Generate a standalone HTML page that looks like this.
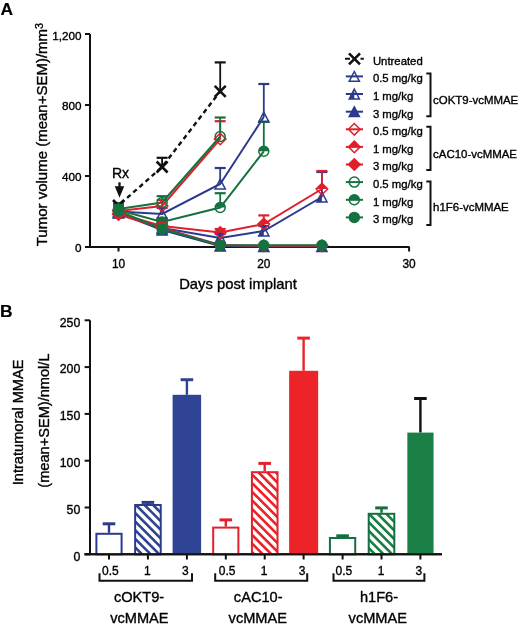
<!DOCTYPE html><html><head><meta charset="utf-8"><title>Figure</title><style>html,body{margin:0;padding:0;background:#fff;width:520px;height:627px;overflow:hidden}svg{display:block}</style></head><body><svg width="520" height="627" viewBox="0 0 520 627" font-family="'Liberation Sans', Arial, Helvetica, sans-serif" fill="#000"><style>text{stroke:#000;stroke-width:0.35px}</style><defs><pattern id="hb" patternUnits="userSpaceOnUse" width="6.1" height="6.1" patternTransform="rotate(-45)"><rect width="6.1" height="6.1" fill="#fff"/><rect x="0" width="2.6" height="6.1" fill="#304496"/></pattern><pattern id="hr" patternUnits="userSpaceOnUse" width="6.1" height="6.1" patternTransform="rotate(-45)"><rect width="6.1" height="6.1" fill="#fff"/><rect x="0" width="2.6" height="6.1" fill="#ec2329"/></pattern><pattern id="hg" patternUnits="userSpaceOnUse" width="6.1" height="6.1" patternTransform="rotate(-45)"><rect width="6.1" height="6.1" fill="#fff"/><rect x="0" width="2.6" height="6.1" fill="#1a7f45"/></pattern></defs><rect width="520" height="627" fill="#fff"/><text x="0.4" y="15.4" font-size="17.4" font-weight="bold" style="stroke-width:0.15px">A</text>
<path d="M90 34 V247 M85 247 H409.5" stroke="#111" stroke-width="2" fill="none"/>
<path d="M85 247.0 H90" stroke="#111" stroke-width="2"/>
<text x="81.6" y="252.0" font-size="11.7" text-anchor="end">0</text>
<path d="M85 176.0 H90" stroke="#111" stroke-width="2"/>
<text x="81.6" y="181.0" font-size="11.7" text-anchor="end">400</text>
<path d="M85 105.0 H90" stroke="#111" stroke-width="2"/>
<text x="81.6" y="110.0" font-size="11.7" text-anchor="end">800</text>
<path d="M85 34.0 H90" stroke="#111" stroke-width="2"/>
<text x="81.6" y="39.8" font-size="11.7" text-anchor="end">1,200</text>
<path d="M118.5 247 V251.5" stroke="#111" stroke-width="2"/>
<text x="118.5" y="268" font-size="11.9" text-anchor="middle">10</text>
<path d="M263.8 247 V251.5" stroke="#111" stroke-width="2"/>
<text x="263.8" y="268" font-size="11.9" text-anchor="middle">20</text>
<path d="M409.1 247 V251.5" stroke="#111" stroke-width="2"/>
<text x="409.1" y="268" font-size="11.9" text-anchor="middle">30</text>
<text x="238" y="288.7" font-size="14.8" text-anchor="middle">Days post implant</text>
<text transform="translate(47 134.6) rotate(-90)" font-size="15" text-anchor="middle">Tumor volume (mean+SEM)/mm<tspan dy="-4.4" font-size="10.8">3</tspan></text>
<text x="111.9" y="177.7" font-size="14.1">Rx</text>
<path d="M119.5 182.3 V188" stroke="#111" stroke-width="2.3"/>
<path d="M114.8 186.2 L124.2 186.2 L119.5 197.8 Z" fill="#111"/>
<path d="M118.5 205.5 L162.1 167.0 L220.2 91.3" stroke="#111" stroke-width="2.4" fill="none" stroke-dasharray="4.6 3.6" stroke-dashoffset="4.9"/>
<path d="M162.1 167.0 V157.8" stroke="#111" stroke-width="1.8"/><path d="M156.6 157.8 H167.6" stroke="#111" stroke-width="2.2"/>
<path d="M220.2 91.3 V62.4" stroke="#111" stroke-width="1.8"/><path d="M214.7 62.4 H225.7" stroke="#111" stroke-width="2.2"/>
<path d="M118.5 211.5 L162.1 214.0 L220.2 184.0 L263.8 117.0" stroke="#2c3a8c" stroke-width="2" fill="none"/>
<path d="M118.5 211.5 V205.0" stroke="#2c3a8c" stroke-width="1.8"/><path d="M113.0 205.0 H124.0" stroke="#2c3a8c" stroke-width="2.2"/>
<path d="M162.1 214.0 V208.0" stroke="#2c3a8c" stroke-width="1.8"/><path d="M156.6 208.0 H167.6" stroke="#2c3a8c" stroke-width="2.2"/>
<path d="M220.2 184.0 V168.0" stroke="#2c3a8c" stroke-width="1.8"/><path d="M214.7 168.0 H225.7" stroke="#2c3a8c" stroke-width="2.2"/>
<path d="M263.8 117.0 V84.0" stroke="#2c3a8c" stroke-width="1.8"/><path d="M258.3 84.0 H269.3" stroke="#2c3a8c" stroke-width="2.2"/>
<path d="M118.5 212.5 L162.1 228.0 L220.2 238.0 L263.8 231.0 L321.9 197.0" stroke="#2c3a8c" stroke-width="2" fill="none"/>
<path d="M118.5 212.5 V207.0" stroke="#2c3a8c" stroke-width="1.8"/><path d="M113.0 207.0 H124.0" stroke="#2c3a8c" stroke-width="2.2"/>
<path d="M162.1 228.0 V224.0" stroke="#2c3a8c" stroke-width="1.8"/><path d="M156.6 224.0 H167.6" stroke="#2c3a8c" stroke-width="2.2"/>
<path d="M220.2 238.0 V234.0" stroke="#2c3a8c" stroke-width="1.8"/><path d="M214.7 234.0 H225.7" stroke="#2c3a8c" stroke-width="2.2"/>
<path d="M263.8 231.0 V226.0" stroke="#2c3a8c" stroke-width="1.8"/><path d="M258.3 226.0 H269.3" stroke="#2c3a8c" stroke-width="2.2"/>
<path d="M321.9 197.0 V172.0" stroke="#2c3a8c" stroke-width="1.8"/><path d="M316.4 172.0 H327.4" stroke="#2c3a8c" stroke-width="2.2"/>
<path d="M118.5 213.0 L162.1 230.0 L220.2 246.0 L263.8 246.5 L321.9 246.5" stroke="#2c3a8c" stroke-width="2" fill="none"/>
<path d="M118.5 213.0 V209.0" stroke="#2c3a8c" stroke-width="1.8"/><path d="M113.0 209.0 H124.0" stroke="#2c3a8c" stroke-width="2.2"/>
<path d="M162.1 230.0 V226.0" stroke="#2c3a8c" stroke-width="1.8"/><path d="M156.6 226.0 H167.6" stroke="#2c3a8c" stroke-width="2.2"/>
<path d="M220.2 246.0 V245.0" stroke="#2c3a8c" stroke-width="1.8"/><path d="M214.7 245.0 H225.7" stroke="#2c3a8c" stroke-width="2.2"/>
<path d="M263.8 246.5 V246.0" stroke="#2c3a8c" stroke-width="1.8"/><path d="M258.3 246.0 H269.3" stroke="#2c3a8c" stroke-width="2.2"/>
<path d="M321.9 246.5 V246.0" stroke="#2c3a8c" stroke-width="1.8"/><path d="M316.4 246.0 H327.4" stroke="#2c3a8c" stroke-width="2.2"/>
<path d="M118.5 211.0 L162.1 206.0 L220.2 139.0" stroke="#de202c" stroke-width="2" fill="none"/>
<path d="M118.5 211.0 V205.0" stroke="#de202c" stroke-width="1.8"/><path d="M113.0 205.0 H124.0" stroke="#de202c" stroke-width="2.2"/>
<path d="M162.1 206.0 V200.0" stroke="#de202c" stroke-width="1.8"/><path d="M156.6 200.0 H167.6" stroke="#de202c" stroke-width="2.2"/>
<path d="M220.2 139.0 V121.2" stroke="#de202c" stroke-width="1.8"/><path d="M214.7 121.2 H225.7" stroke="#de202c" stroke-width="2.2"/>
<path d="M118.5 213.5 L162.1 226.0 L220.2 232.5 L263.8 224.0 L321.9 189.0" stroke="#de202c" stroke-width="2" fill="none"/>
<path d="M118.5 213.5 V206.0" stroke="#de202c" stroke-width="1.8"/><path d="M113.0 206.0 H124.0" stroke="#de202c" stroke-width="2.2"/>
<path d="M162.1 226.0 V222.0" stroke="#de202c" stroke-width="1.8"/><path d="M156.6 222.0 H167.6" stroke="#de202c" stroke-width="2.2"/>
<path d="M220.2 232.5 V229.0" stroke="#de202c" stroke-width="1.8"/><path d="M214.7 229.0 H225.7" stroke="#de202c" stroke-width="2.2"/>
<path d="M263.8 224.0 V215.4" stroke="#de202c" stroke-width="1.8"/><path d="M258.3 215.4 H269.3" stroke="#de202c" stroke-width="2.2"/>
<path d="M321.9 189.0 V171.0" stroke="#de202c" stroke-width="1.8"/><path d="M316.4 171.0 H327.4" stroke="#de202c" stroke-width="2.2"/>
<path d="M118.5 214.5 L162.1 228.0 L220.2 245.0 L263.8 245.8 L321.9 245.8" stroke="#de202c" stroke-width="2" fill="none"/>
<path d="M118.5 214.5 V207.0" stroke="#de202c" stroke-width="1.8"/><path d="M113.0 207.0 H124.0" stroke="#de202c" stroke-width="2.2"/>
<path d="M162.1 228.0 V224.0" stroke="#de202c" stroke-width="1.8"/><path d="M156.6 224.0 H167.6" stroke="#de202c" stroke-width="2.2"/>
<path d="M220.2 245.0 V243.0" stroke="#de202c" stroke-width="1.8"/><path d="M214.7 243.0 H225.7" stroke="#de202c" stroke-width="2.2"/>
<path d="M263.8 245.8 V245.5" stroke="#de202c" stroke-width="1.8"/><path d="M258.3 245.5 H269.3" stroke="#de202c" stroke-width="2.2"/>
<path d="M321.9 245.8 V245.5" stroke="#de202c" stroke-width="1.8"/><path d="M316.4 245.5 H327.4" stroke="#de202c" stroke-width="2.2"/>
<path d="M118.5 209.0 L162.1 202.5 L220.2 136.5" stroke="#157240" stroke-width="2" fill="none"/>
<path d="M118.5 209.0 V203.0" stroke="#157240" stroke-width="1.8"/><path d="M113.0 203.0 H124.0" stroke="#157240" stroke-width="2.2"/>
<path d="M162.1 202.5 V196.2" stroke="#157240" stroke-width="1.8"/><path d="M156.6 196.2 H167.6" stroke="#157240" stroke-width="2.2"/>
<path d="M220.2 136.5 V117.5" stroke="#157240" stroke-width="1.8"/><path d="M214.7 117.5 H225.7" stroke="#157240" stroke-width="2.2"/>
<path d="M118.5 210.0 L162.1 222.0 L220.2 207.5 L263.8 151.3" stroke="#157240" stroke-width="2" fill="none"/>
<path d="M118.5 210.0 V204.0" stroke="#157240" stroke-width="1.8"/><path d="M113.0 204.0 H124.0" stroke="#157240" stroke-width="2.2"/>
<path d="M162.1 222.0 V218.0" stroke="#157240" stroke-width="1.8"/><path d="M156.6 218.0 H167.6" stroke="#157240" stroke-width="2.2"/>
<path d="M220.2 207.5 V193.2" stroke="#157240" stroke-width="1.8"/><path d="M214.7 193.2 H225.7" stroke="#157240" stroke-width="2.2"/>
<path d="M263.8 151.3 V121.6" stroke="#157240" stroke-width="1.8"/><path d="M258.3 121.6 H269.3" stroke="#157240" stroke-width="2.2"/>
<path d="M118.5 211.0 L162.1 229.0 L220.2 245.2 L263.8 245.2 L321.9 245.2" stroke="#157240" stroke-width="2" fill="none"/>
<path d="M118.5 211.0 V205.0" stroke="#157240" stroke-width="1.8"/><path d="M113.0 205.0 H124.0" stroke="#157240" stroke-width="2.2"/>
<path d="M162.1 229.0 V225.0" stroke="#157240" stroke-width="1.8"/><path d="M156.6 225.0 H167.6" stroke="#157240" stroke-width="2.2"/>
<path d="M220.2 245.2 V244.0" stroke="#157240" stroke-width="1.8"/><path d="M214.7 244.0 H225.7" stroke="#157240" stroke-width="2.2"/>
<path d="M263.8 245.2 V245.0" stroke="#157240" stroke-width="1.8"/><path d="M258.3 245.0 H269.3" stroke="#157240" stroke-width="2.2"/>
<path d="M321.9 245.2 V245.0" stroke="#157240" stroke-width="1.8"/><path d="M316.4 245.0 H327.4" stroke="#157240" stroke-width="2.2"/>
<path d="M113.0 200.0 L124.0 211.0 M124.0 200.0 L113.0 211.0" stroke="#111" stroke-width="2.6" fill="none"/>
<path d="M156.6 161.5 L167.6 172.5 M167.6 161.5 L156.6 172.5" stroke="#111" stroke-width="2.6" fill="none"/>
<path d="M214.7 85.8 L225.7 96.8 M225.7 85.8 L214.7 96.8" stroke="#111" stroke-width="2.6" fill="none"/>
<polygon points="118.5,206.6 123.6,216.4 113.4,216.4" fill="none" stroke="#2c3a8c" stroke-width="1.5"/>
<polygon points="162.1,209.1 167.2,218.9 157.0,218.9" fill="none" stroke="#2c3a8c" stroke-width="1.5"/>
<polygon points="220.2,179.1 225.3,188.9 215.1,188.9" fill="none" stroke="#2c3a8c" stroke-width="1.5"/>
<polygon points="263.8,112.1 268.9,121.9 258.7,121.9" fill="none" stroke="#2c3a8c" stroke-width="1.5"/>
<polygon points="118.5,207.6 123.6,217.4 113.4,217.4" fill="none" stroke="#2c3a8c" stroke-width="1.5"/><polygon points="118.5,207.6 118.5,217.4 113.4,217.4" fill="#2c3a8c"/>
<polygon points="162.1,223.1 167.2,232.9 157.0,232.9" fill="none" stroke="#2c3a8c" stroke-width="1.5"/><polygon points="162.1,223.1 162.1,232.9 157.0,232.9" fill="#2c3a8c"/>
<polygon points="220.2,233.1 225.3,242.9 215.1,242.9" fill="none" stroke="#2c3a8c" stroke-width="1.5"/><polygon points="220.2,233.1 220.2,242.9 215.1,242.9" fill="#2c3a8c"/>
<polygon points="263.8,226.1 268.9,235.9 258.7,235.9" fill="none" stroke="#2c3a8c" stroke-width="1.5"/><polygon points="263.8,226.1 263.8,235.9 258.7,235.9" fill="#2c3a8c"/>
<polygon points="321.9,192.1 327.0,201.9 316.8,201.9" fill="none" stroke="#2c3a8c" stroke-width="1.5"/><polygon points="321.9,192.1 321.9,201.9 316.8,201.9" fill="#2c3a8c"/>
<polygon points="118.5,208.1 123.6,217.9 113.4,217.9" fill="#2c3a8c" stroke="#2c3a8c" stroke-width="1.5" stroke-linejoin="miter"/>
<polygon points="162.1,225.1 167.2,234.9 157.0,234.9" fill="#2c3a8c" stroke="#2c3a8c" stroke-width="1.5" stroke-linejoin="miter"/>
<polygon points="220.2,241.1 225.3,250.9 215.1,250.9" fill="#2c3a8c" stroke="#2c3a8c" stroke-width="1.5" stroke-linejoin="miter"/>
<polygon points="263.8,241.6 268.9,251.4 258.7,251.4" fill="#2c3a8c" stroke="#2c3a8c" stroke-width="1.5" stroke-linejoin="miter"/>
<polygon points="321.9,241.6 327.0,251.4 316.8,251.4" fill="#2c3a8c" stroke="#2c3a8c" stroke-width="1.5" stroke-linejoin="miter"/>
<polygon points="118.5,205.2 124.3,211.0 118.5,216.8 112.7,211.0" fill="none" stroke="#de202c" stroke-width="1.5"/>
<polygon points="162.1,200.2 167.9,206.0 162.1,211.8 156.3,206.0" fill="none" stroke="#de202c" stroke-width="1.5"/>
<polygon points="220.2,133.2 226.0,139.0 220.2,144.8 214.4,139.0" fill="none" stroke="#de202c" stroke-width="1.5"/>
<polygon points="118.5,207.7 124.3,213.5 118.5,219.3 112.7,213.5" fill="none" stroke="#de202c" stroke-width="1.5"/><polygon points="118.5,207.7 124.3,213.5 112.7,213.5" fill="#de202c"/>
<polygon points="162.1,220.2 167.9,226.0 162.1,231.8 156.3,226.0" fill="none" stroke="#de202c" stroke-width="1.5"/><polygon points="162.1,220.2 167.9,226.0 156.3,226.0" fill="#de202c"/>
<polygon points="220.2,226.7 226.0,232.5 220.2,238.3 214.4,232.5" fill="none" stroke="#de202c" stroke-width="1.5"/><polygon points="220.2,226.7 226.0,232.5 214.4,232.5" fill="#de202c"/>
<polygon points="263.8,218.2 269.6,224.0 263.8,229.8 258.0,224.0" fill="none" stroke="#de202c" stroke-width="1.5"/><polygon points="263.8,218.2 269.6,224.0 258.0,224.0" fill="#de202c"/>
<polygon points="321.9,183.2 327.7,189.0 321.9,194.8 316.1,189.0" fill="none" stroke="#de202c" stroke-width="1.5"/><polygon points="321.9,183.2 327.7,189.0 316.1,189.0" fill="#de202c"/>
<polygon points="118.5,208.7 124.3,214.5 118.5,220.3 112.7,214.5" fill="#de202c" stroke="#de202c" stroke-width="1.5"/>
<polygon points="162.1,222.2 167.9,228.0 162.1,233.8 156.3,228.0" fill="#de202c" stroke="#de202c" stroke-width="1.5"/>
<polygon points="220.2,239.2 226.0,245.0 220.2,250.8 214.4,245.0" fill="#de202c" stroke="#de202c" stroke-width="1.5"/>
<polygon points="263.8,240.0 269.6,245.8 263.8,251.6 258.0,245.8" fill="#de202c" stroke="#de202c" stroke-width="1.5"/>
<polygon points="321.9,240.0 327.7,245.8 321.9,251.6 316.1,245.8" fill="#de202c" stroke="#de202c" stroke-width="1.5"/>
<circle cx="118.5" cy="209.0" r="5.0" fill="none" stroke="#157240" stroke-width="1.5"/>
<circle cx="162.1" cy="202.5" r="5.0" fill="none" stroke="#157240" stroke-width="1.5"/>
<circle cx="220.2" cy="136.5" r="5.0" fill="none" stroke="#157240" stroke-width="1.5"/>
<circle cx="118.5" cy="210.0" r="5.0" fill="none" stroke="#157240" stroke-width="1.5"/><path d="M113.5 210.0 A5.0 5.0 0 0 1 123.5 210.0 Z" fill="#157240"/>
<circle cx="162.1" cy="222.0" r="5.0" fill="none" stroke="#157240" stroke-width="1.5"/><path d="M157.1 222.0 A5.0 5.0 0 0 1 167.1 222.0 Z" fill="#157240"/>
<circle cx="220.2" cy="207.5" r="5.0" fill="none" stroke="#157240" stroke-width="1.5"/><path d="M215.2 207.5 A5.0 5.0 0 0 1 225.2 207.5 Z" fill="#157240"/>
<circle cx="263.8" cy="151.3" r="5.0" fill="none" stroke="#157240" stroke-width="1.5"/><path d="M258.8 151.3 A5.0 5.0 0 0 1 268.8 151.3 Z" fill="#157240"/>
<circle cx="118.5" cy="211.0" r="5.0" fill="#157240" stroke="#157240" stroke-width="1.5"/>
<circle cx="162.1" cy="229.0" r="5.0" fill="#157240" stroke="#157240" stroke-width="1.5"/>
<circle cx="220.2" cy="245.2" r="5.0" fill="#157240" stroke="#157240" stroke-width="1.5"/>
<circle cx="263.8" cy="245.2" r="5.0" fill="#157240" stroke="#157240" stroke-width="1.5"/>
<circle cx="321.9" cy="245.2" r="5.0" fill="#157240" stroke="#157240" stroke-width="1.5"/>
<path d="M345 58.8 H350 M360.5 58.8 H363.8" stroke="#111" stroke-width="2" fill="none"/>
<path d="M349.0 53.3 L360.0 64.3 M360.0 53.3 L349.0 64.3" stroke="#111" stroke-width="2.6" fill="none"/>
<text x="372.9" y="64.6" font-size="11.35">Untreated</text>
<path d="M345.8 76.4 H363" stroke="#2c3a8c" stroke-width="2" fill="none"/>
<polygon points="354.3,71.5 359.4,81.3 349.2,81.3" fill="none" stroke="#2c3a8c" stroke-width="1.5"/>
<text x="372.9" y="82.2" font-size="11.35">0.5 mg/kg</text>
<path d="M345.8 94.0 H363" stroke="#2c3a8c" stroke-width="2" fill="none"/>
<polygon points="354.3,89.1 359.4,98.9 349.2,98.9" fill="none" stroke="#2c3a8c" stroke-width="1.5"/><polygon points="354.3,89.1 354.3,98.9 349.2,98.9" fill="#2c3a8c"/>
<text x="372.9" y="99.8" font-size="11.35">1 mg/kg</text>
<path d="M345.8 111.7 H363" stroke="#2c3a8c" stroke-width="2" fill="none"/>
<polygon points="354.3,106.8 359.4,116.6 349.2,116.6" fill="#2c3a8c" stroke="#2c3a8c" stroke-width="1.5" stroke-linejoin="miter"/>
<text x="372.9" y="117.5" font-size="11.35">3 mg/kg</text>
<path d="M345.8 129.3 H363" stroke="#de202c" stroke-width="2" fill="none"/>
<polygon points="354.3,123.5 360.1,129.3 354.3,135.1 348.5,129.3" fill="none" stroke="#de202c" stroke-width="1.5"/>
<text x="372.9" y="135.1" font-size="11.35">0.5 mg/kg</text>
<path d="M345.8 146.9 H363" stroke="#de202c" stroke-width="2" fill="none"/>
<polygon points="354.3,141.1 360.1,146.9 354.3,152.7 348.5,146.9" fill="none" stroke="#de202c" stroke-width="1.5"/><polygon points="354.3,141.1 360.1,146.9 348.5,146.9" fill="#de202c"/>
<text x="372.9" y="152.7" font-size="11.35">1 mg/kg</text>
<path d="M345.8 164.5 H363" stroke="#de202c" stroke-width="2" fill="none"/>
<polygon points="354.3,158.7 360.1,164.5 354.3,170.3 348.5,164.5" fill="#de202c" stroke="#de202c" stroke-width="1.5"/>
<text x="372.9" y="170.3" font-size="11.35">3 mg/kg</text>
<path d="M345.8 182.1 H363" stroke="#157240" stroke-width="2" fill="none"/>
<circle cx="354.3" cy="182.1" r="5.0" fill="none" stroke="#157240" stroke-width="1.5"/>
<text x="372.9" y="187.9" font-size="11.35">0.5 mg/kg</text>
<path d="M345.8 199.8 H363" stroke="#157240" stroke-width="2" fill="none"/>
<circle cx="354.3" cy="199.8" r="5.0" fill="none" stroke="#157240" stroke-width="1.5"/><path d="M349.3 199.8 A5.0 5.0 0 0 1 359.3 199.8 Z" fill="#157240"/>
<text x="372.9" y="205.6" font-size="11.35">1 mg/kg</text>
<path d="M345.8 217.4 H363" stroke="#157240" stroke-width="2" fill="none"/>
<circle cx="354.3" cy="217.4" r="5.0" fill="#157240" stroke="#157240" stroke-width="1.5"/>
<text x="372.9" y="223.2" font-size="11.35">3 mg/kg</text>
<path d="M426.3 73.5 H430.5 V116.3 H426.3" stroke="#111" stroke-width="2" fill="none"/>
<text x="433.1" y="103.8" font-size="11.45">cOKT9-vcMMAE</text>
<path d="M426.3 126.8 H430.5 V170.1 H426.3" stroke="#111" stroke-width="2" fill="none"/>
<text x="433.1" y="158.4" font-size="11.45">cAC10-vcMMAE</text>
<path d="M426.3 181.6 H430.5 V225 H426.3" stroke="#111" stroke-width="2" fill="none"/>
<text x="433.1" y="211.1" font-size="11.45">h1F6-vcMMAE</text>
<text x="0.1" y="316.5" font-size="17.4" font-weight="bold" style="stroke-width:0.15px">B</text>
<path d="M90 320.3 V554.3 M84.6 554.3 H442" stroke="#111" stroke-width="2" fill="none"/>
<path d="M84.6 554.3 H90" stroke="#111" stroke-width="2"/>
<text x="80.3" y="560.5" font-size="12.3" text-anchor="end">0</text>
<path d="M84.6 507.5 H90" stroke="#111" stroke-width="2"/>
<text x="80.3" y="513.7" font-size="12.3" text-anchor="end">50</text>
<path d="M84.6 460.7 H90" stroke="#111" stroke-width="2"/>
<text x="80.3" y="466.9" font-size="12.3" text-anchor="end">100</text>
<path d="M84.6 413.9 H90" stroke="#111" stroke-width="2"/>
<text x="80.3" y="420.1" font-size="12.3" text-anchor="end">150</text>
<path d="M84.6 367.1 H90" stroke="#111" stroke-width="2"/>
<text x="80.3" y="373.3" font-size="12.3" text-anchor="end">200</text>
<path d="M84.6 320.3 H90" stroke="#111" stroke-width="2"/>
<text x="80.3" y="326.5" font-size="12.3" text-anchor="end">250</text>
<text transform="translate(23.4 422.4) rotate(-90)" font-size="14.6" text-anchor="middle">Intratumoral MMAE</text>
<text transform="translate(49.4 420.6) rotate(-90)" font-size="14.6" text-anchor="middle">(mean+SEM)/nmol/L</text>
<path d="M109.0 532.8 V523.8" stroke="#2b3b8c" stroke-width="2.4"/>
<path d="M102.7 523.8 H115.3" stroke="#2b3b8c" stroke-width="3"/>
<rect x="96.40" y="533.8" width="25.2" height="20.5" fill="#fff" stroke="#2b3b8c" stroke-width="2"/>
<path d="M147.9 504.0 V502.4" stroke="#2b3b8c" stroke-width="2.4"/>
<path d="M141.6 502.4 H154.2" stroke="#2b3b8c" stroke-width="3"/>
<rect x="135.13" y="505.0" width="25.6" height="49.3" fill="url(#hb)" stroke="#2b3b8c" stroke-width="2"/>
<path d="M186.9 394.8 V379.7" stroke="#304496" stroke-width="2.4"/>
<path d="M180.6 379.7 H193.2" stroke="#304496" stroke-width="3"/>
<rect x="172.61" y="394.8" width="28.5" height="159.5" fill="#304496"/>
<path d="M225.8 526.6 V519.9" stroke="#e3202c" stroke-width="2.4"/>
<path d="M219.5 519.9 H232.1" stroke="#e3202c" stroke-width="3"/>
<rect x="213.19" y="527.6" width="25.2" height="26.7" fill="#fff" stroke="#e3202c" stroke-width="2"/>
<path d="M264.7 471.2 V463.4" stroke="#e3202c" stroke-width="2.4"/>
<path d="M258.4 463.4 H271.0" stroke="#e3202c" stroke-width="3"/>
<rect x="251.92" y="472.2" width="25.6" height="82.1" fill="url(#hr)" stroke="#e3202c" stroke-width="2"/>
<path d="M303.6 370.8 V338.1" stroke="#ec2329" stroke-width="2.4"/>
<path d="M297.3 338.1 H309.9" stroke="#ec2329" stroke-width="3"/>
<rect x="289.15" y="370.8" width="29.0" height="183.5" fill="#ec2329"/>
<path d="M342.6 537.0 V535.8" stroke="#157040" stroke-width="2.4"/>
<path d="M336.3 535.8 H348.9" stroke="#157040" stroke-width="3"/>
<rect x="329.93" y="538.0" width="25.3" height="16.3" fill="#fff" stroke="#157040" stroke-width="2"/>
<path d="M381.5 512.8 V507.9" stroke="#157040" stroke-width="2.4"/>
<path d="M375.2 507.9 H387.8" stroke="#157040" stroke-width="3"/>
<rect x="368.71" y="513.8" width="25.6" height="40.5" fill="url(#hg)" stroke="#157040" stroke-width="2"/>
<path d="M420.4 432.6 V398.5" stroke="#111" stroke-width="2.4"/>
<path d="M414.1 398.5 H426.7" stroke="#111" stroke-width="3"/>
<rect x="407.34" y="432.6" width="26.2" height="121.7" fill="#1a7f45"/>
<path d="M84.6 554.3 H442" stroke="#111" stroke-width="2" fill="none"/>
<path d="M109.0 554.3 V559.5" stroke="#111" stroke-width="2"/>
<text x="110.3" y="575" font-size="12" text-anchor="middle">0.5</text>
<path d="M147.9 554.3 V559.5" stroke="#111" stroke-width="2"/>
<text x="147.4" y="575" font-size="12" text-anchor="middle">1</text>
<path d="M186.9 554.3 V559.5" stroke="#111" stroke-width="2"/>
<text x="185.3" y="575" font-size="12" text-anchor="middle">3</text>
<path d="M225.8 554.3 V559.5" stroke="#111" stroke-width="2"/>
<text x="227.1" y="575" font-size="12" text-anchor="middle">0.5</text>
<path d="M264.7 554.3 V559.5" stroke="#111" stroke-width="2"/>
<text x="264.2" y="575" font-size="12" text-anchor="middle">1</text>
<path d="M303.6 554.3 V559.5" stroke="#111" stroke-width="2"/>
<text x="302.0" y="575" font-size="12" text-anchor="middle">3</text>
<path d="M342.6 554.3 V559.5" stroke="#111" stroke-width="2"/>
<text x="343.9" y="575" font-size="12" text-anchor="middle">0.5</text>
<path d="M381.5 554.3 V559.5" stroke="#111" stroke-width="2"/>
<text x="381.0" y="575" font-size="12" text-anchor="middle">1</text>
<path d="M420.4 554.3 V559.5" stroke="#111" stroke-width="2"/>
<text x="418.8" y="575" font-size="12" text-anchor="middle">3</text>
<path d="M99.5 573.3 V580.8 H192 V573.3" stroke="#111" stroke-width="2" fill="none"/>
<text x="139.1" y="602.4" font-size="14.6" text-anchor="middle">cOKT9-</text>
<text x="139.4" y="623" font-size="14.6" text-anchor="middle">vcMMAE</text>
<path d="M215.2 573.3 V580.8 H307.2 V573.3" stroke="#111" stroke-width="2" fill="none"/>
<text x="258.2" y="602.4" font-size="14.6" text-anchor="middle">cAC10-</text>
<text x="257.8" y="623" font-size="14.6" text-anchor="middle">vcMMAE</text>
<path d="M333.5 573.3 V580.8 H424.4 V573.3" stroke="#111" stroke-width="2" fill="none"/>
<text x="379.0" y="602.4" font-size="14.6" text-anchor="middle">h1F6-</text>
<text x="377.8" y="623" font-size="14.6" text-anchor="middle">vcMMAE</text></svg></body></html>
